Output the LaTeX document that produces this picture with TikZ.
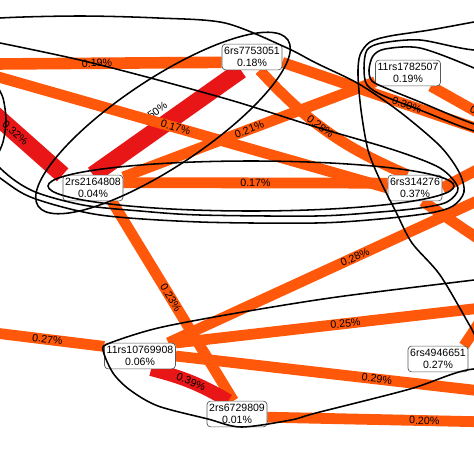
\documentclass[tikz,border=0pt]{standalone}
\usepackage{fontspec}
\setmainfont{Liberation Sans}
\usetikzlibrary{backgrounds}
\definecolor{bandorange}{RGB}{255,88,10}
\definecolor{bandred}{RGB}{232,22,22}
\begin{document}
\begin{tikzpicture}[x=0.025cm, y=-0.025cm,
    snp/.style={draw=gray!70!black, line width=0.5pt, fill=white, rounded corners=2.5pt,
      align=center, inner xsep=1.5pt, inner ysep=2pt, font=\fontsize{7.5}{9}\selectfont},
    band/.style={bandorange, line width=0.27cm},
    redband/.style={bandred, line width=0.43cm},
    pct/.style={sloped, inner sep=0pt, text=black, font=\fontsize{7.6}{8}\selectfont},
    hull/.style={black, line width=1.1pt}]
    \useasboundingbox (0,0) rectangle (474,474);
    \clip (0,0) rectangle (474,474);
    \node[snp] (S1) at (252,57) {6rs7753051\\0.18\%};
    \node[snp] (S2) at (93,188) {2rs2164808\\0.04\%};
    \node[snp] (S3) at (415,188) {6rs314276\\0.37\%};
    \node[snp] (S4) at (408,73) {11rs1782507\\0.19\%};
    \node[snp] (S5) at (140,356) {11rs10769908\\0.06\%};
    \node[snp] (S6) at (237,414) {2rs6729809\\0.01\%};
    \node[snp] (S7) at (438,359) {6rs4946651\\0.27\%};
    \coordinate (L1) at (-5,64);
    \coordinate (L2) at (-5,76);
    \coordinate (L3) at (-5,333);
    \coordinate (L4) at (-8,112);
    \coordinate (R1) at (490,133);
    \coordinate (R2) at (500,125);
    \coordinate (R3) at (490,163);
    \coordinate (R4) at (495,250);
    \coordinate (R5) at (490,195);
    \coordinate (R6) at (490,307);
    \coordinate (R7) at (490,392);
    \coordinate (R8) at (490,422);
    \coordinate (R9) at (485,314);
    \begin{scope}[on background layer]
      \fill[white] (0,0) rectangle (474,474);
      \clip (0,0) rectangle (474,474);
      \draw[redband] (L4) -- node[pct, pos=0.33] {0.32\%} (S2.north west);
      \draw[redband] (S2.north) -- node[pct, pos=0.47, above=2pt] {0.50\%} (S1.230);
      \draw[band, line width=0.29cm] (L1) -- node[pct, pos=0.45] {0.19\%} (S1.190);
      \draw[band] (L2) -- node[pct, pos=0.46] {0.17\%} (S3.west);
      \draw[band] (S2.20) -- node[pct, pos=0.5] {0.21\%} (S4.195);
      \draw[band] (S2.10) -- node[pct, pos=0.5] {0.17\%} (S3.170);
      \draw[band] (S1.300) to[bend right=12] node[pct, pos=0.45] {0.28\%} (S3.120);
      \draw[band] (S1.350) -- node[pct, pos=0.6] {0.30\%} (R1);
      \draw[band] (S4.330) -- node[pct, pos=0.77] {0.26\%} (R2);
      \draw[band] (S3.east) -- (R3);
      \draw[band] (S3.300) -- (R4);
      \draw[band] (S2.325) -- node[pct, pos=0.485] {0.23\%} (S6.105);
      \draw[band] (L3) -- node[pct, pos=0.48] {0.27\%} (S5.165);
      \draw[band] (S5.25) -- node[pct, pos=0.58] {0.28\%} (R5);
      \draw[band] (S5.20) -- node[pct, pos=0.54] {0.25\%} (R6);
      \draw[band] (S5.east) -- node[pct, pos=0.64] {0.29\%} (R7);
      \draw[band] (S6.354) -- node[pct, pos=0.705] {0.20\%} (R8);
      \draw[band] (S7.27) -- (R9);
      \draw[redband, line width=0.34cm] (S5.310) to[bend left=8] node[pct, pos=0.5] {0.39\%} (S6.123);
    \end{scope}
    \draw[hull, rotate around={33.6:(163,123)}] (163,123) ellipse (150 and 44);
    \draw[hull] (251,186) ellipse (203 and 25);
    \draw[hull] plot[smooth cycle] coordinates {(80,16) (158,18) (225,23) (285,47) (316,63) (359,84) (400,112)
      (440,146) (459,172) (464,192) (453,206) (430,213) (380,219) (316,223) (200,222) (100,215)
      (33,198) (0,178) (-50,140) (-80,60) (-50,24) (0,18)};
    \draw[hull] plot[smooth cycle] coordinates {(0,43) (80,60) (158,80) (237,102) (316,127) (394,150)
      (440,168) (458,188) (447,202) (420,208) (380,212) (316,216) (200,215) (140,211) (83,205)
      (33,191) (0,168) (-40,120) (-50,60) (-30,38)};
    \draw[hull] plot[smooth] coordinates {(-4,84) (3,98) (6,120) (3,142) (-4,158)};
    \draw[hull] plot[smooth cycle] coordinates {(103,350) (110,343) (158,328) (237,313) (337,297) (474,280)
      (540,272) (560,320) (540,362) (467,370) (410,389) (316,413) (291,420) (241,427) (208,419)
      (158,406) (130,390) (113,373)};
    \draw[hull] plot[smooth cycle] coordinates {(358,75) (360,55) (370,42) (390,36) (430,30) (474,22)
      (530,12) (600,150) (520,380) (485,352) (470,326) (440,275) (412,243) (396,212) (380,180)
      (368,150) (361,110)};
    \draw[hull] plot[smooth cycle] coordinates {(369,70) (373,56) (385,49) (420,48) (474,68) (530,95)
      (530,140) (474,124) (420,102) (388,89) (372,81)};
    \draw[hull] plot[smooth cycle] coordinates {(364,68) (367,50) (382,43) (420,40) (474,50) (540,50)
      (545,150) (474,131) (420,110) (384,96) (367,85)};
\end{tikzpicture}
\end{document}
